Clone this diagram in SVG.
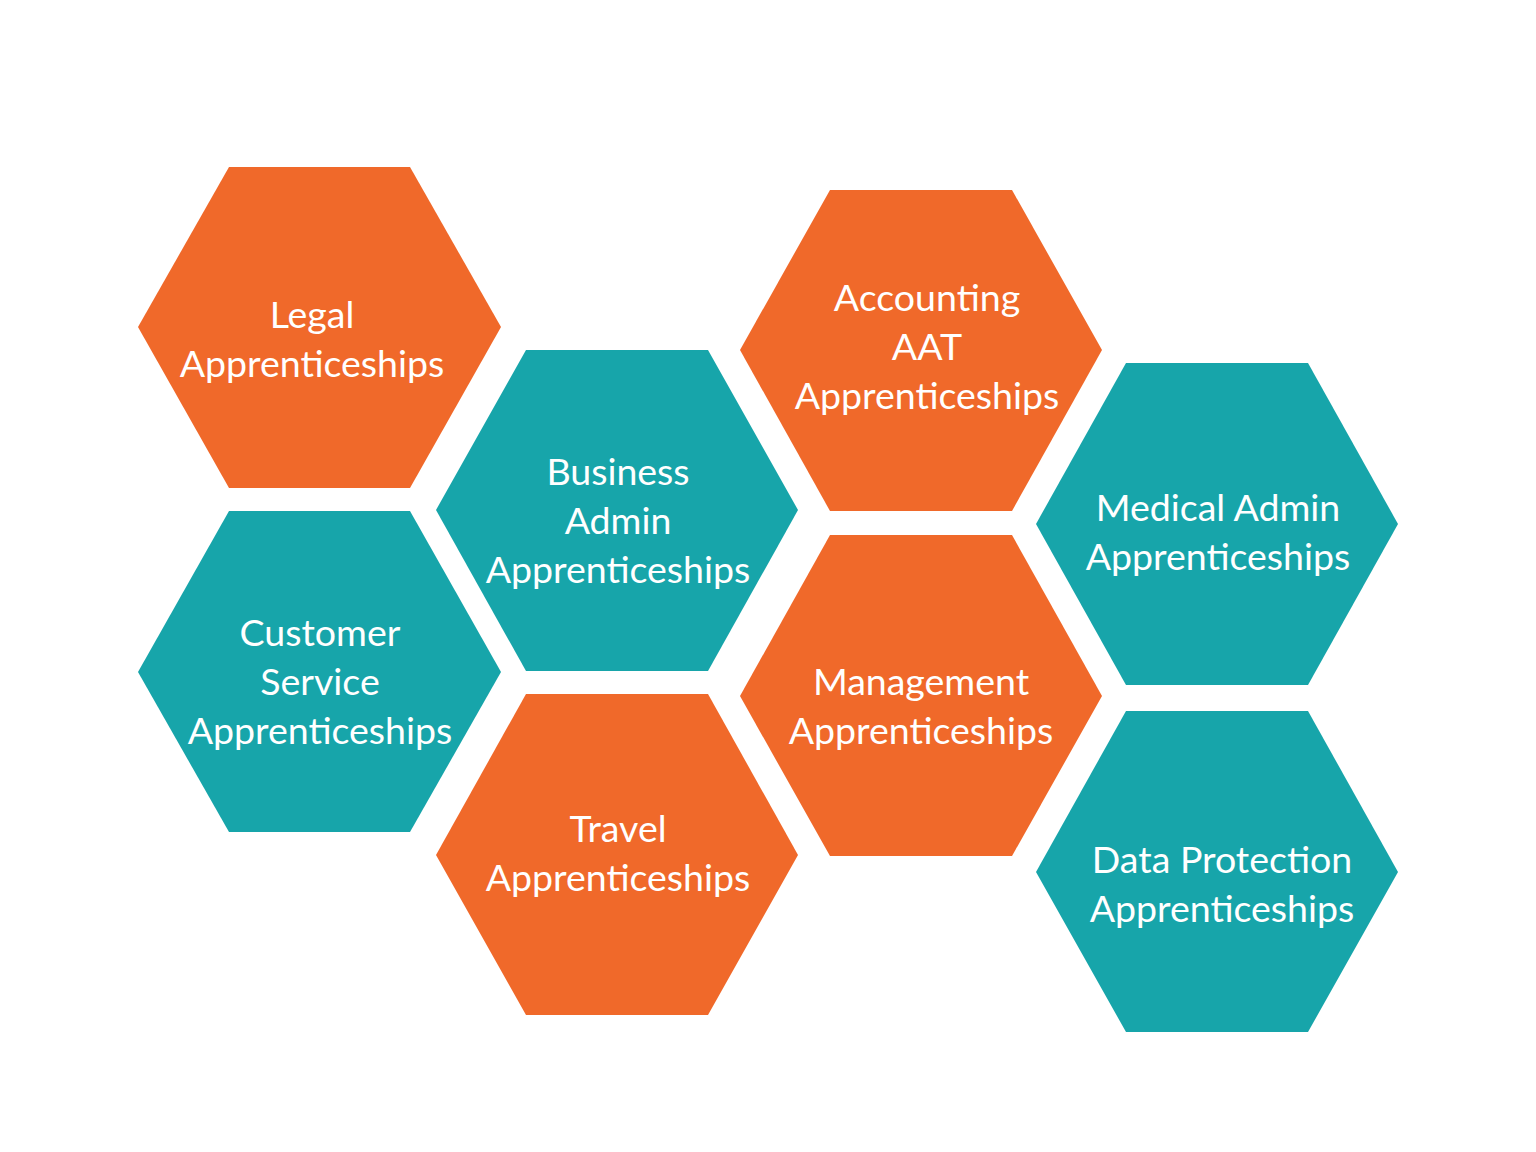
<svg xmlns="http://www.w3.org/2000/svg" width="1536" height="1152" viewBox="0 0 1536 1152">
<style>
.o{fill:#F0692A}
.t{fill:#17A5AA}
text{font-family:Lato,"Open Sans","Liberation Sans",sans-serif;font-size:37.5px;fill:#FFFFFF;text-anchor:middle}
</style>
<rect width="1536" height="1152" fill="#FFFFFF"/>
<g id="legal">
<polygon class="o" points="229,167 410,167 501,327 410,488 229,488 138,327"/>
<text x="312" y="328">Legal</text>
<text x="312" y="377">Apprenticeships</text>
</g>
<g id="business-admin">
<polygon class="t" points="526,350 708,350 798,510 708,671 526,671 436,510"/>
<text x="618" y="485">Business</text>
<text x="618" y="534">Admin</text>
<text x="618" y="583">Apprenticeships</text>
</g>
<g id="accounting">
<polygon class="o" points="830,190 1012,190 1102,350 1012,511 830,511 740,350"/>
<text x="927" y="311">Accounting</text>
<text x="927" y="360">AAT</text>
<text x="927" y="409">Apprenticeships</text>
</g>
<g id="medical-admin">
<polygon class="t" points="1126,363 1308,363 1398,524 1308,685 1126,685 1036,524"/>
<text x="1218" y="521">Medical Admin</text>
<text x="1218" y="570">Apprenticeships</text>
</g>
<g id="customer-service">
<polygon class="t" points="229,511 410,511 501,672 410,832 229,832 138,672"/>
<text x="320" y="646">Customer</text>
<text x="320" y="695">Service</text>
<text x="320" y="744">Apprenticeships</text>
</g>
<g id="travel">
<polygon class="o" points="526,694 708,694 798,855 708,1015 526,1015 436,855"/>
<text x="618" y="842">Travel</text>
<text x="618" y="891">Apprenticeships</text>
</g>
<g id="management">
<polygon class="o" points="830,535 1012,535 1102,696 1012,856 830,856 740,696"/>
<text x="921" y="695">Management</text>
<text x="921" y="744">Apprenticeships</text>
</g>
<g id="data-protection">
<polygon class="t" points="1126,711 1308,711 1398,872 1308,1032 1126,1032 1036,872"/>
<text x="1222" y="873">Data Protection</text>
<text x="1222" y="922">Apprenticeships</text>
</g>
<g id="connectors"></g>
</svg>
